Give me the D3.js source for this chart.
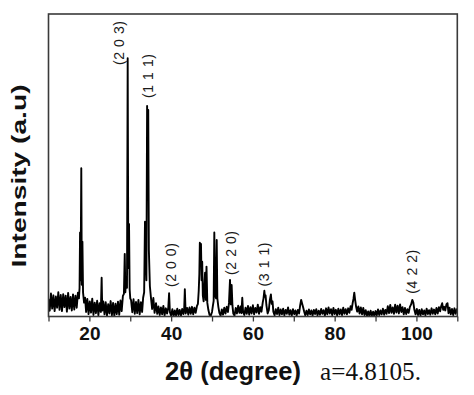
<!DOCTYPE html>
<html>
<head>
<meta charset="utf-8">
<script src="https://cdn.jsdelivr.net/npm/d3@7"></script>
<style>
  body { margin: 0; background: #fff; }
  svg { display: block; }
</style>
</head>
<body>
<svg id="chart" width="474" height="395"></svg>
<script>
// XRD scan, [2theta, intensity] (intensity 0..100 = frame height)
const scan10to30 = [
  [10.0,5.8],[10.3,1.9],[10.6,7.6],[10.9,2.6],[11.2,7.0],[11.5,1.8],[11.8,6.6],[12.1,2.9],[12.4,8.0],[12.7,2.2],
  [13.0,7.1],[13.3,1.8],[13.6,7.4],[13.9,3.1],[14.2,6.9],[14.5,1.6],[14.8,7.8],[15.1,2.6],[15.4,6.5],[15.7,2.0],
  [16.0,7.3],[16.3,2.3],[16.6,6.9],[16.9,2.9],[17.2,7.9],[17.45,6.0],[17.6,9.5],[17.72,27.8],[17.85,12.0],[18.02,49.0],
  [18.15,10.5],[18.3,24.7],[18.45,8.0],[18.7,4.6],[18.95,6.2],[19.2,1.5],[19.5,5.8],[19.8,0.8],[20.1,5.0],[20.4,1.3],
  [20.7,5.9],[21.0,0.5],[21.3,4.6],[21.6,1.1],[21.9,5.2],[22.2,0.4],[22.5,4.4],[22.8,1.5],[23.0,12.8],[23.15,2.0],
  [23.4,5.0],[23.7,0.7],[24.0,4.7],[24.3,0.2],[24.6,4.1],[24.9,1.0],[25.2,5.1],[25.5,0.4],[25.8,4.5],[26.1,0.2],
  [26.4,4.2],[26.7,0.8],[27.0,4.9],[27.3,0.6],[27.6,5.3],[27.9,1.8],[28.2,6.8],[28.45,7.5],[28.65,20.7],[28.8,8.0],
  [29.0,13.0],[29.2,9.5],[29.37,85.4],[29.52,16.0],[29.7,30.6],[29.85,9.0],[30.0,6.0]
];
const scan30to50 = [
  [30.2,5.4],[30.5,1.4],[30.8,5.7],[31.1,0.9],[31.4,4.8],[31.7,1.1],[32.0,5.5],[32.3,0.7],[32.6,4.7],[32.9,1.5],
  [33.15,6.2],[33.4,8.0],[33.6,31.3],[33.75,24.0],[33.95,12.0],[34.12,69.6],[34.27,58.0],[34.4,68.3],[34.55,22.0],[34.8,10.0],
  [35.05,6.4],[35.35,2.5],[35.65,6.1],[35.95,1.2],[36.3,4.4],[36.6,0.9],[36.9,3.3],[37.2,0.5],[37.5,3.0],[37.8,0.7],
  [38.1,3.5],[38.4,0.4],[38.7,2.7],[39.0,1.0],[39.3,2.9],[39.5,7.7],[39.7,1.4],[40.0,0.3],[40.3,2.4],[40.6,0.1],
  [40.9,2.0],[41.2,0.3],[41.5,2.6],[41.8,0.5],[42.1,2.2],[42.4,0.2],[42.7,2.5],[43.0,0.8],[43.2,2.8],[43.35,9.0],
  [43.55,1.0],[43.9,2.8],[44.2,0.6],[44.5,3.0],[44.8,0.9],[45.1,3.2],[45.4,0.7],[45.7,2.9],[46.0,1.2],[46.3,3.4],
  [46.55,4.2],[46.75,8.5],[46.9,14.0],[47.02,24.4],[47.15,19.0],[47.3,24.0],[47.45,12.0],[47.6,18.1],[47.75,7.0],[47.95,5.0],
  [48.1,9.0],[48.3,14.5],[48.48,5.5],[48.65,16.5],[48.85,4.5],[49.1,2.2],[49.4,0.5],[49.7,0.3],[50.0,1.5]
];
const scan50to80 = [
  [50.2,3.4],[50.4,5.2],[50.56,27.8],[50.75,7.0],[51.0,6.0],[51.15,25.3],[51.3,6.0],[51.55,3.2],[51.8,1.2],[52.1,0.3],
  [52.4,2.3],[52.7,0.6],[53.0,2.9],[53.3,1.0],[53.6,3.2],[53.9,1.5],[54.15,4.5],[54.4,12.1],[54.6,4.0],[54.8,10.4],
  [55.0,3.5],[55.2,1.0],[55.5,0.3],[55.8,2.8],[56.1,1.0],[56.4,3.6],[56.7,1.2],[57.0,3.3],[57.2,1.1],[57.4,6.2],
  [57.6,1.5],[57.9,0.5],[58.2,2.9],[58.5,0.9],[58.8,3.5],[59.1,0.6],[59.4,3.1],[59.7,1.0],[60.0,3.7],[60.3,0.7],
  [60.6,2.8],[60.9,1.3],[61.2,3.9],[61.5,0.9],[61.8,3.1],[62.1,1.6],[62.4,4.6],[62.6,6.0],[62.8,8.5],[62.95,6.5],
  [63.1,7.0],[63.3,3.8],[63.6,1.0],[63.9,2.2],[64.15,5.5],[64.4,7.3],[64.6,4.2],[64.8,5.0],[65.0,1.6],[65.3,0.4],
  [65.6,2.4],[65.9,0.8],[66.2,2.9],[66.5,0.5],[66.8,2.3],[67.1,0.7],[67.4,2.6],[67.7,0.4],[68.0,2.2],[68.3,0.9],
  [68.6,3.0],[68.9,0.6],[69.2,2.1],[69.5,0.3],[69.8,2.4],[70.1,0.8],[70.4,2.0],[70.7,0.3],[71.0,2.2],[71.3,1.0],
  [71.55,3.6],[71.8,5.5],[72.05,4.2],[72.3,3.0],[72.55,1.6],[72.8,0.4],[73.1,1.9],[73.4,0.5],[73.7,2.3],[74.0,0.7],
  [74.3,2.0],[74.6,0.3],[74.9,2.2],[75.2,0.8],[75.5,2.4],[75.8,0.4],[76.1,1.9],[76.4,0.6],[76.7,2.5],[77.0,0.9],
  [77.3,2.1],[77.6,0.3],[77.9,2.7],[78.2,0.7],[78.5,3.0],[78.8,1.0],[79.1,2.4],[79.4,0.5],[79.7,2.8],[80.0,0.8]
];
const scan80to110 = [
  [80.3,2.2],[80.6,0.4],[80.9,2.6],[81.2,0.7],[81.5,2.3],[81.8,0.5],[82.1,2.9],[82.4,0.9],[82.7,2.4],[83.0,0.7],
  [83.3,2.7],[83.6,1.2],[83.9,3.4],[84.15,2.2],[84.4,4.4],[84.6,5.8],[84.8,7.9],[85.0,5.6],[85.25,3.2],[85.5,1.6],
  [85.8,3.3],[86.1,1.0],[86.4,3.0],[86.7,0.7],[87.0,2.8],[87.3,0.5],[87.6,2.1],[87.9,0.2],[88.2,1.7],[88.5,0.1],
  [88.8,1.9],[89.1,0.3],[89.4,1.6],[89.7,0.1],[90.0,1.8],[90.3,0.4],[90.6,2.3],[90.9,0.5],[91.2,2.0],[91.5,0.7],
  [91.8,2.6],[92.1,0.6],[92.4,2.2],[92.7,0.9],[93.0,3.4],[93.3,1.1],[93.6,3.8],[93.9,1.2],[94.2,3.0],[94.5,0.9],
  [94.8,3.9],[95.1,1.3],[95.4,3.6],[95.7,1.0],[96.0,4.0],[96.3,1.5],[96.6,3.1],[96.9,0.7],[97.2,2.8],[97.5,0.8],
  [97.8,2.4],[98.1,1.2],[98.4,3.2],[98.7,4.0],[99.0,5.5],[99.25,4.6],[99.5,2.2],[99.8,0.7],[100.1,2.5],[100.4,0.5],
  [100.7,2.2],[101.0,0.3],[101.3,2.4],[101.6,0.7],[101.9,2.0],[102.2,0.4],[102.5,2.6],[102.8,0.8],[103.1,2.1],[103.4,0.6],
  [103.7,2.7],[104.0,0.9],[104.3,2.3],[104.6,0.7],[104.9,2.8],[105.2,1.0],[105.5,3.1],[105.8,1.7],[106.05,3.4],[106.3,4.4],
  [106.55,2.2],[106.8,3.2],[107.05,2.0],[107.35,4.1],[107.6,4.4],[107.85,1.1],[108.1,2.9],[108.4,0.7],[108.7,2.5],[109.0,0.5],
  [109.3,2.7],[109.6,0.9],[109.9,2.4],[110.0,1.7]
];

// hkl labels: text, 2theta, intensity level of the label centre
const hklText = ['(2 0 3)', '(1 1 1)', '(2 0 0)', '(2 2 0)', '(3 1 1)', '(4 2 2)'];
const hklTheta = [27.3, 34.4, 39.9, 54.6, 62.7, 98.8];
const hklLevel = [90.4, 79.5, 17.0, 21.0, 17.2, 14.8];

const xTicks = [10, 20, 30, 40, 50, 60, 70, 80, 90, 100, 110];
const xTickLabels = [20, 40, 60, 80, 100];

const sans = 'Arial, "Liberation Sans", sans-serif';
const svg = d3.select('#chart');

const x = d3.scaleLinear().domain([10, 110]).range([48.5, 457.3]);
const y = d3.scaleLinear().domain([0, 100]).range([316.5, 14]);

const scan = [].concat(scan10to30, scan30to50, scan50to80, scan80to110);

svg.append('clipPath').attr('id', 'plot-clip')
  .append('rect')
  .attr('x', x.range()[0]).attr('y', y.range()[1])
  .attr('width', x.range()[1] - x.range()[0])
  .attr('height', y.range()[0] - y.range()[1]);

// the trace
const line = d3.line()
  .x(d => x(d[0]))
  .y(d => y(d[1]));

svg.append('path')
  .datum(scan)
  .attr('clip-path', 'url(#plot-clip)')
  .attr('d', line)
  .attr('fill', 'none')
  .attr('stroke', '#000')
  .attr('stroke-width', 1.9)
  .attr('stroke-linejoin', 'round');

// frame
svg.append('rect')
  .attr('x', x.range()[0]).attr('y', y.range()[1])
  .attr('width', x.range()[1] - x.range()[0])
  .attr('height', y.range()[0] - y.range()[1])
  .attr('fill', 'none')
  .attr('stroke', '#3a3a3a')
  .attr('stroke-width', 1.6);

// bottom axis, ticks every 10, labels every 20
const xAxis = d3.axisBottom(x)
  .tickValues(xTicks)
  .tickSize(5)
  .tickPadding(5)
  .tickFormat(d => xTickLabels.includes(d) ? d : '');

const gx = svg.append('g')
  .attr('transform', `translate(0,${y.range()[0]})`)
  .call(xAxis);
gx.select('.domain').remove();
gx.selectAll('.tick line').attr('stroke', '#3a3a3a').attr('stroke-width', 1.3);
gx.selectAll('.tick text')
  .attr('fill', '#111')
  .style('font-family', sans)
  .style('font-size', '19px')
  .style('font-weight', 'bold');

// peak labels
svg.append('g').selectAll('text')
  .data(hklText)
  .join('text')
  .attr('transform', (d, i) => `translate(${x(hklTheta[i])},${y(hklLevel[i])}) rotate(-90)`)
  .attr('text-anchor', 'middle')
  .attr('dominant-baseline', 'central')
  .attr('textLength', 44)
  .attr('lengthAdjust', 'spacing')
  .attr('fill', '#1a1a1a')
  .style('font-family', sans)
  .style('font-size', '14px')
  .text(d => d);

// axis titles
svg.append('text')
  .attr('transform', 'translate(18,176) rotate(-90)')
  .attr('text-anchor', 'middle')
  .attr('dominant-baseline', 'central')
  .attr('textLength', 183)
  .attr('lengthAdjust', 'spacingAndGlyphs')
  .attr('fill', '#111')
  .style('font-family', sans)
  .style('font-size', '21px')
  .style('font-weight', 'bold')
  .text('Intensity (a.u)');

svg.append('text')
  .attr('x', 165).attr('y', 380)
  .attr('textLength', 136)
  .attr('lengthAdjust', 'spacingAndGlyphs')
  .attr('fill', '#111')
  .style('font-family', sans)
  .style('font-size', '25px')
  .style('font-weight', 'bold')
  .text('2θ (degree)');

svg.append('text')
  .attr('x', 320).attr('y', 380)
  .attr('textLength', 101)
  .attr('lengthAdjust', 'spacingAndGlyphs')
  .attr('fill', '#111')
  .style('font-family', '"Times New Roman", "Liberation Serif", serif')
  .style('font-size', '25px')
  .text('a=4.8105.');
</script>
</body>
</html>
